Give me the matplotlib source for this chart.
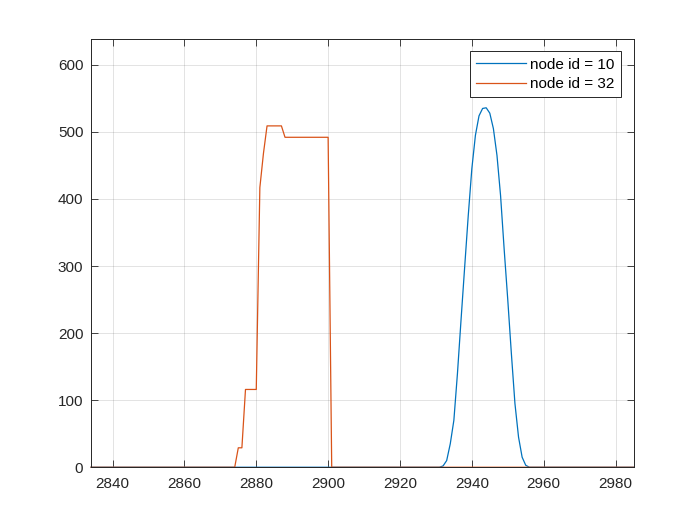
import numpy as np
import matplotlib.pyplot as plt

plt.rcParams['font.family'] = ['Liberation Sans', 'DejaVu Sans']

# node 10: smooth pulse around t = 2944
node10_t = [2834, 2931, 2932, 2933, 2934, 2935, 2936, 2937, 2938, 2939, 2940,
            2941, 2942, 2943, 2944, 2945, 2946, 2947, 2948, 2949, 2950, 2951,
            2952, 2953, 2954, 2955, 2956, 2985]
node10_v = [0, 0, 2, 10, 35, 70, 140, 220, 298, 375, 445,
            495, 524, 535, 536, 528, 505, 465, 405, 325, 250, 170,
            95, 45, 15, 3, 0, 0]

# node 32: stepped plateau between 2874 and 2901
node32_t = [2834, 2874, 2875, 2876, 2877, 2880, 2881, 2882, 2883, 2887, 2888,
            2900, 2901, 2985]
node32_v = [0, 0, 29, 29, 116, 116, 417, 468, 509, 509, 492,
            492, 0, 0]

blue = '#0072BD'
orange = '#D95319'
txt = '#262626'

fig = plt.figure(figsize=(7, 5.25), dpi=100)
ax = fig.add_axes([0.13, 0.11, 0.775, 0.815])

ax.plot(node10_t, node10_v, color=blue, lw=0.9, label='node id = 10', clip_on=False)
ax.plot(node32_t, node32_v, color=orange, lw=0.9, label='node id = 32', clip_on=False)

ax.set_xlim(2834, 2985)
ax.set_ylim(0, 638)
ax.set_xticks(np.arange(2840, 2981, 20))
ax.set_yticks(np.arange(0, 601, 100))

ax.grid(True, color='#262626', alpha=0.15, lw=0.6)
ax.set_axisbelow(True)
ax.tick_params(direction='in', top=True, right=True, length=5, width=0.6,
               labelsize=11, colors=txt, labelcolor=txt)
ax.tick_params(axis='x', pad=7)
ax.tick_params(axis='y', pad=5.5)
for s in ax.spines.values():
    s.set_color(txt)
    s.set_linewidth(0.7)

leg = ax.legend(loc='upper right', fontsize=11, frameon=True, fancybox=False,
                edgecolor='#262626', framealpha=1, borderpad=0.4,
                handlelength=3.3, handletextpad=0.26, labelspacing=0.35,
                borderaxespad=0, bbox_to_anchor=(0.9764, 0.9719))
leg.get_frame().set_linewidth(0.7)

fig.savefig('out.png', dpi=100)
